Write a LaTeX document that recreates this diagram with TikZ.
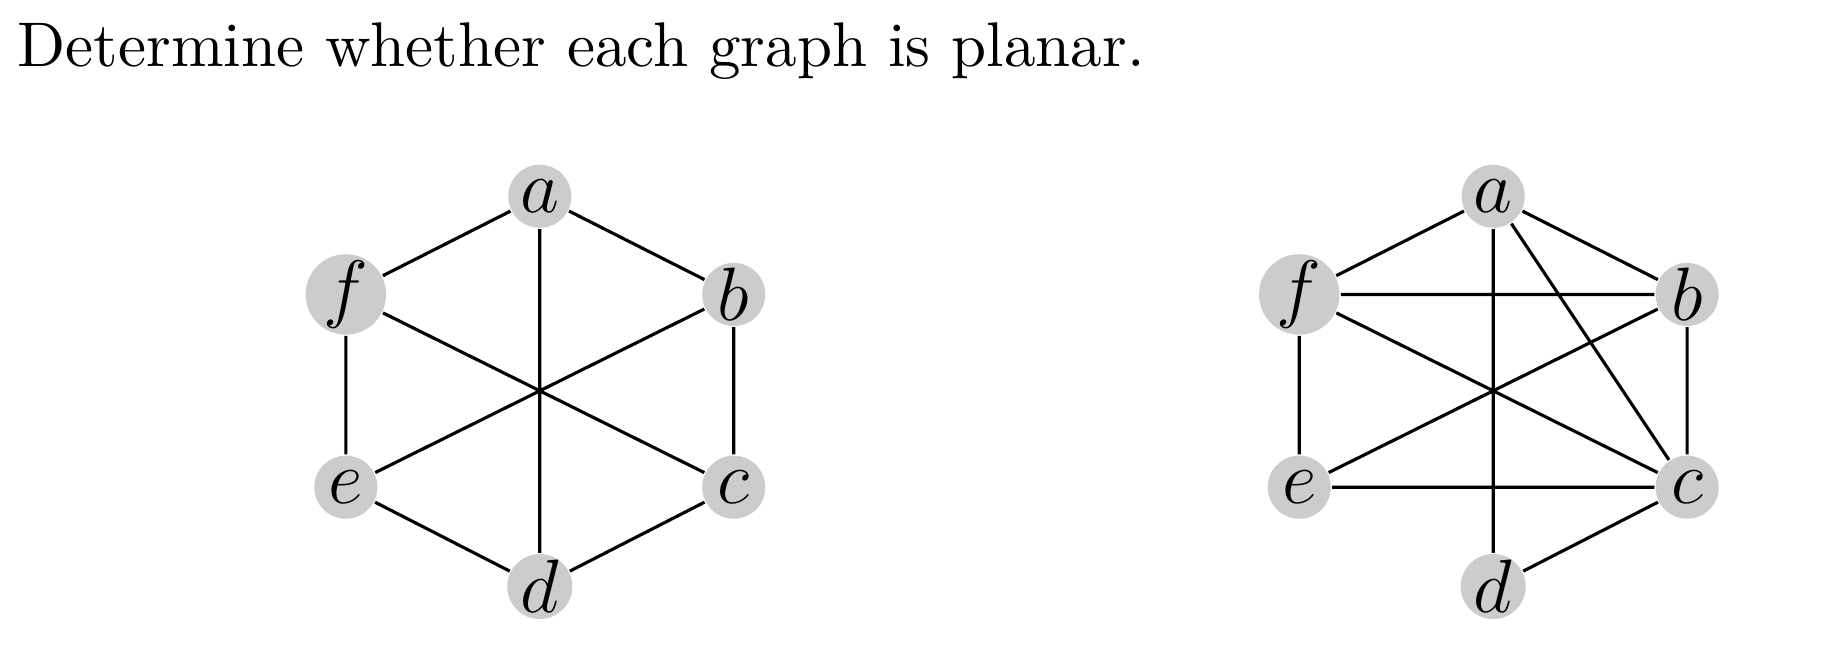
\documentclass[tikz,border=0pt]{standalone}
\begin{document}
\begin{tikzpicture}[x=0.1852pt,y=-0.1852pt,
  vtx/.style={circle,fill=black!20,minimum size=10pt,inner sep=0pt,font=\fontsize{11.5}{12}\selectfont},
  edge/.style={line width=0.5pt}]
\useasboundingbox (0,0) rectangle (1568,562);
\node[anchor=base west,inner sep=0pt] (title) at (14,57) {Determine whether each graph is planar.};
\begin{scope}
\node[vtx] (a) at (462,168) {$a$};
\node[vtx] (f) at (296,252) {$f$};
\node[vtx] (b) at (628,252) {$b$};
\node[vtx] (e) at (296,417) {$e$};
\node[vtx] (c) at (628,417) {$c$};
\node[vtx] (d) at (462,502) {$d$};
\draw[edge] (a)--(f) (a)--(b) (a)--(d) (f)--(e) (f)--(c) (b)--(e) (b)--(c) (e)--(d) (c)--(d);
\end{scope}
\begin{scope}
\node[vtx] (a2) at (1278,168) {$a$};
\node[vtx] (f2) at (1112,252) {$f$};
\node[vtx] (b2) at (1444,252) {$b$};
\node[vtx] (e2) at (1112,417) {$e$};
\node[vtx] (c2) at (1444,417) {$c$};
\node[vtx] (d2) at (1278,502) {$d$};
\draw[edge] (a2)--(f2) (a2)--(b2) (a2)--(d2) (a2)--(c2) (f2)--(b2) (f2)--(e2) (f2)--(c2) (b2)--(e2) (b2)--(c2) (e2)--(c2) (c2)--(d2);
\end{scope}
\end{tikzpicture}
\end{document}
